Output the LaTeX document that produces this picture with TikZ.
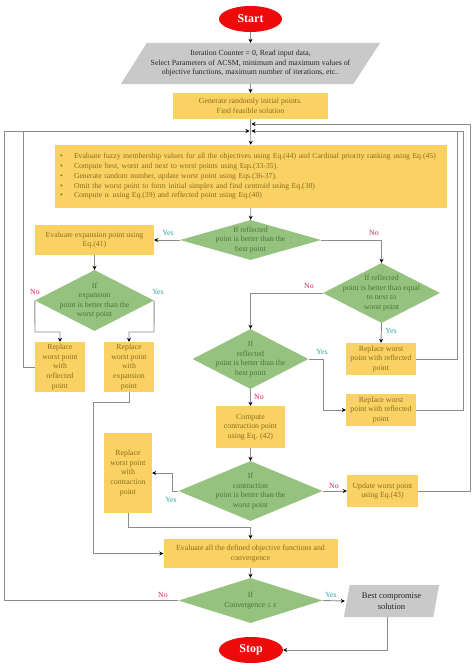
\documentclass[tikz,border=0pt]{standalone}
\usepackage{fontspec}
\setmainfont{Liberation Serif}
\usetikzlibrary{shapes.geometric,arrows.meta,calc,backgrounds}
\definecolor{yel}{HTML}{FAD264}
\definecolor{ytxt}{HTML}{8A6E1E}
\definecolor{grn}{HTML}{95C27E}
\definecolor{gtxt}{HTML}{4A7638}
\definecolor{gry}{HTML}{C9C9C9}
\definecolor{redd}{HTML}{EE0A0A}
\definecolor{lin}{HTML}{8C8C8C}
\definecolor{yescol}{HTML}{33A6A6}
\definecolor{nocol}{HTML}{C8304A}
\newcommand{\fs}{\fontsize{7.8}{9.6}\selectfont}
\newcommand{\bl}{\makebox[14pt][l]{\textbullet}}
\begin{document}
\begin{tikzpicture}[x=1pt,y=-1pt,
  ybox/.style={rectangle,fill=yel,text=ytxt,font=\fs,align=center,inner sep=1pt},
  dia/.style={diamond,fill=grn,inner sep=0pt,aspect=1},
  dtxt/.style={font=\fs,text=gtxt,align=center,inner sep=0pt},
  inv/.style={rectangle,inner sep=0pt,font=\fs,align=center,text=black!85},
  oval/.style={ellipse,fill=redd,text=white,font=\fontsize{12}{14}\selectfont\bfseries,inner sep=0pt,minimum width=63pt,minimum height=26pt},
  ln/.style={draw=lin,line width=0.9pt},
  arr/.style={draw=lin,line width=0.9pt,-{Stealth[length=4pt,width=4pt,color=black]}},
  yes/.style={font=\fs,text=yescol,inner sep=0pt},
  no/.style={font=\fs,text=nocol,inner sep=0pt}]
\useasboundingbox (0,0) rectangle (474,671);

% nodes
\node[oval] (start) at (250.5,19) {Start};
\node[inv,minimum width=259pt,minimum height=41pt] (p1) at (250.5,63.5)
  {Iteration Counter = 0, Read input data,\\Select Parameters of ACSM, minimum and maximum values of\\objective functions, maximum number of iterations, etc..};
\node[ybox,minimum width=155pt,minimum height=26pt] (g1) at (250.5,106) {Generate randomly initial points.\\Find feasible solution};
\node[ybox,minimum width=392pt,minimum height=63pt,text width=382pt,align=left,inner xsep=5pt,font=\fontsize{7.7}{9.7}\selectfont] (bul) at (251,176.5)
  {\mbox{\bl Evaluate fuzzy membership values for all the objectives using Eq.(44) and Cardinal priority ranking using Eq.(45)}\\
   \mbox{\bl Compute best, worst and next to worst points using Eqs.(33-35).}\\
   \mbox{\bl Generate random number, update worst point using Eqs.(36-37).}\\
   \mbox{\bl Omit the worst point to form initial simplex and find centroid using Eq.(38)}\\
   \mbox{\bl Compute α\, using Eq.(39) and reflected point using Eq.(40)}};
\node[dia,minimum width=141pt,minimum height=40pt] (d1) at (250.5,240) {};
\node[dtxt] (t1) at (d1) {If reflected\\point is better than the\\best point};
\node[ybox,minimum width=119pt,minimum height=30pt] (ex) at (94.5,240) {Evaluate expansion point using\\Eq.(41)};
\node[dia,minimum width=119pt,minimum height=61pt] (d2) at (94.5,300.5) {};
\node[dtxt] (t2) at (d2) {If\\expansion\\point is better than the\\worst point};
\node[ybox,minimum width=50pt,minimum height=50pt] (rr) at (60,367) {Replace\\worst point\\with\\reflected\\point};
\node[ybox,minimum width=50pt,minimum height=50pt] (re) at (129,367) {Replace\\worst point\\with\\expansion\\point};
\node[dia,minimum width=117pt,minimum height=60pt] (d3) at (381.5,293) {};
\node[dtxt] (t3) at (d3) {If reflected\\point is better than equal\\to next to\\worst point};
\node[ybox,minimum width=70pt,minimum height=32pt] (r1) at (381,359) {Replace worst\\point with reflected\\point};
\node[dia,minimum width=116pt,minimum height=60pt] (d4) at (250.5,359) {};
\node[dtxt] (t4) at (d4) {If\\reflected\\point is better than the\\best point};
\node[ybox,minimum width=70pt,minimum height=32pt] (r2) at (381,410) {Replace worst\\point with reflected\\point};
\node[ybox,minimum width=69pt,minimum height=42pt] (cc) at (250.5,427) {Compute\\contraction point\\using Eq. (42)};
\node[dia,minimum width=144pt,minimum height=60pt] (d5) at (250.5,491) {};
\node[dtxt] (t5) at (d5) {If\\contraction\\point is better than the\\worst point};
\node[ybox,minimum width=48pt,minimum height=80pt] (rc) at (128,473) {Replace\\worst point\\with\\contraction\\point};
\node[ybox,minimum width=71pt,minimum height=32pt] (up) at (382.5,491) {Update worst point\\using Eq.(43)};
\node[ybox,minimum width=174pt,minimum height=29pt] (ev) at (250.5,553.5) {Evaluate all the defined objective functions and\\convergence};
\node[dia,minimum width=144pt,minimum height=45pt] (d6) at (250.5,600.5) {};
\node[dtxt] (t6) at (d6) {If\\Convergence ≤ ε};
\node[inv,minimum width=95pt,minimum height=32pt,font=\fontsize{8.5}{10.5}\selectfont] (p2) at (391.5,601) {Best compromise\\solution};
\node[oval,minimum width=64pt] (stop) at (251,650) {Stop};

\begin{pgfonlayer}{background}
\fill[gry] ($(p1.north west)+(26,0)$) -- (p1.north east) -- ($(p1.south east)+(-27,0)$) -- (p1.south west) -- cycle;
\fill[gry] ($(p2.north west)+(6,0)$) -- (p2.north east) -- ($(p2.south east)+(-6,0)$) -- (p2.south west) -- cycle;
\end{pgfonlayer}

% merge coordinates
\coordinate (mL) at (249.5,131);
\coordinate (mR1) at (251.5,124);
\coordinate (mR2) at (251.5,131);

% connectors
\draw[arr] (start) -- (p1);
\draw[arr] (p1) -- (g1);
\draw[arr] (g1) -- (bul);
\draw[arr] (bul) -- (d1);
\draw[arr] (d6.west) -| (4,131) -- (mL);
\draw[ln] (rr.west) -| (23,131);
\draw[arr] (up.east) -| (470,124) -- (mR1);
\draw[arr] (r2.east) -| (463,131) -- (mR2);
\draw[ln] (r1.east) -| (457,131);

\draw[arr] (d1.west) -- (ex.east);
\draw[arr] (ex) -- (d2);
\draw[arr] (d2.west) -- (35,332) -| (rr.north);
\draw[arr] (d2.east) -- (154,332) -| (re.north);
\draw[arr] (re.south) |- (93,402) -- (93,553.5) -- (ev.west);

\draw[arr] (d1.east) -| (d3.north);
\draw[arr] (d3.south) -- (r1.north);
\draw[arr] (d3.west) -| (d4.north);
\draw[arr] (d4.east) -- (323,359) |- (r2.west);
\draw[arr] (d4.south) -- (cc.north);
\draw[arr] (cc.south) -- (d5.north);
\draw[arr] (d5.west) -- (172,491) |- (rc.east);
\draw[arr] (d5.east) -- (up.west);
\draw[arr] (rc.south) -- (128,527) -| (ev.north);
\draw[arr] (ev.south) -- (d6.north);
\draw[arr] (d6.east) -- ($(p2.west)+(1,0)$);
\draw[arr] ([xshift=-4pt]p2.south) |- (stop.east);

% labels
\node[yes] (y1) at (168,233) {Yes};
\node[no] (n1) at (374,233) {No};
\node[no] (n2) at (35,292) {No};
\node[yes] (y2) at (158,292) {Yes};
\node[no] (n3) at (309,286) {No};
\node[yes] (y3) at (391,331) {Yes};
\node[yes] (y4) at (322,352) {Yes};
\node[no] (n4) at (259,397) {No};
\node[yes] (y5) at (171,500) {Yes};
\node[no] (n5) at (334,486) {No};
\node[no] (n6) at (163,595) {No};
\node[yes] (y6) at (331,595) {Yes};
\end{tikzpicture}
\end{document}
